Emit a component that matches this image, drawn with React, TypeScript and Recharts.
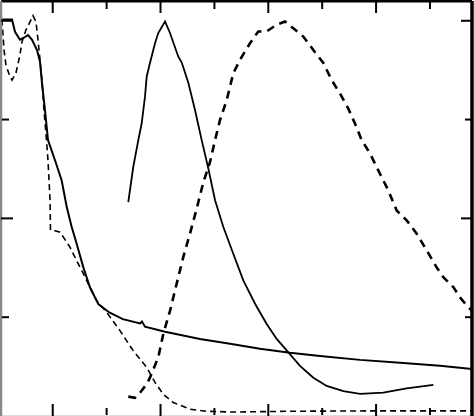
import React from 'react';
import { LineChart, Line, XAxis, YAxis } from 'recharts';

// wavelength (nm) / normalised intensity
const absSolidNm = [252, 262.2, 265, 269.6, 273.3, 277.1, 280.8, 285.4, 288.2, 290, 292.8, 295.6, 302.1, 308.3, 313, 317.6, 322.2, 328.4, 334.6, 342.3, 352.5, 365, 381, 382.8, 385.6, 404.2, 436.6, 464.5, 492.3, 520.1, 548, 585.1, 622.2, 659.3, 689];
const absSolidVal = [1.003, 1.003, 0.972, 0.952, 0.957, 0.964, 0.952, 0.926, 0.896, 0.843, 0.774, 0.698, 0.647, 0.596, 0.529, 0.478, 0.436, 0.376, 0.325, 0.283, 0.262, 0.245, 0.234, 0.239, 0.226, 0.213, 0.195, 0.183, 0.17, 0.16, 0.152, 0.142, 0.135, 0.127, 0.119];

const absDashNm = [252.9, 254.8, 256.6, 260.4, 262.2, 265.9, 269.6, 271.5, 275.2, 278.9, 281.7, 284.5, 286.3, 288.2, 290, 291.9, 293.8, 295.6, 297.5, 297.9, 300.5, 306.7, 309.8, 316, 322.2, 328.4, 333, 340.8, 350.1, 362.4, 374.7, 387.2, 394.9, 402.6, 411.9, 427.4, 442.9, 467.2, 520, 600, 689];
const absDashVal = [1.003, 0.926, 0.888, 0.858, 0.85, 0.868, 0.914, 0.947, 0.977, 0.997, 1.013, 0.997, 0.952, 0.901, 0.85, 0.774, 0.711, 0.647, 0.546, 0.47, 0.47, 0.465, 0.453, 0.427, 0.393, 0.36, 0.334, 0.292, 0.262, 0.216, 0.165, 0.123, 0.085, 0.055, 0.034, 0.017, 0.012, 0.01, 0.012, 0.013, 0.013];

const emSolidNm = [370.1, 374.7, 379.4, 382.5, 385.6, 387.2, 390.2, 394.9, 397.9, 404.2, 408.8, 416.5, 419.6, 425.8, 432, 438.2, 444.3, 450.6, 458.3, 467.6, 476.8, 487.7, 498.5, 507.8, 518.6, 529.4, 541.8, 554.2, 569.6, 585.1, 606.7, 628.4, 653.1];
const emSolidVal = [0.541, 0.63, 0.698, 0.74, 0.808, 0.859, 0.893, 0.943, 0.969, 0.998, 0.969, 0.909, 0.895, 0.843, 0.774, 0.698, 0.627, 0.546, 0.478, 0.41, 0.343, 0.284, 0.233, 0.195, 0.161, 0.127, 0.097, 0.076, 0.063, 0.056, 0.059, 0.07, 0.079];

const emDashNm = [370.1, 376.3, 381, 387.2, 390.2, 397.9, 402.6, 408.8, 415, 421.1, 427.4, 433.6, 439.7, 445.9, 450.6, 455.2, 461.4, 467.5, 473.7, 483, 490.7, 498.5, 507.8, 515.5, 523.2, 532.5, 541.8, 551.1, 558.8, 566.5, 574.2, 580.4, 586.7, 594.4, 603.6, 611.3, 619.1, 628.4, 637.7, 647, 656.2, 662.4, 671.7, 677.9, 683.4, 689];
const emDashVal = [0.049, 0.046, 0.059, 0.081, 0.097, 0.148, 0.208, 0.266, 0.335, 0.402, 0.462, 0.525, 0.591, 0.642, 0.698, 0.749, 0.799, 0.867, 0.901, 0.943, 0.973, 0.973, 0.99, 0.998, 0.981, 0.96, 0.926, 0.893, 0.85, 0.816, 0.778, 0.74, 0.698, 0.664, 0.613, 0.571, 0.52, 0.495, 0.461, 0.419, 0.376, 0.351, 0.326, 0.3, 0.282, 0.266];

const xMajor = [300, 400, 500, 600];
const xMinor = [350, 450, 550, 650];
const yMajor = [0.5, 1.0];
const yMinor = [0.25, 0.75];

const zip = (nm: number[], val: number[]) => nm.map((x, i) => ({ nm: x, v: val[i] }));

const X_DOMAIN: [number, number] = [252, 689];
const Y_DOMAIN: [number, number] = [0, 1.05];
const tickStyle = { stroke: '#000', strokeWidth: 2 };
const noLabel = () => <g />;

export default function App() {
  return (
    <div style={{ position: 'fixed', left: 0, top: 0, width: 474, height: 416, background: '#fff', overflow: 'hidden' }}>
      <LineChart width={474} height={416} margin={{ top: 1, right: 2, bottom: 0, left: 1 }}>
        <XAxis xAxisId="b" type="number" dataKey="nm" domain={X_DOMAIN} allowDataOverflow ticks={xMajor}
          height={1} mirror tick={noLabel} tickSize={12} tickLine={tickStyle} axisLine={{ stroke: '#bbb', strokeWidth: 1 }} />
        <XAxis xAxisId="bm" type="number" dataKey="nm" domain={X_DOMAIN} allowDataOverflow ticks={xMinor}
          height={1} mirror tick={noLabel} tickSize={7} tickLine={tickStyle} axisLine={false} />
        <XAxis xAxisId="t" orientation="top" type="number" dataKey="nm" domain={X_DOMAIN} allowDataOverflow ticks={xMajor}
          height={1} mirror tick={noLabel} tickSize={12} tickLine={tickStyle} axisLine={{ stroke: '#000', strokeWidth: 3 }} />
        <XAxis xAxisId="tm" orientation="top" type="number" dataKey="nm" domain={X_DOMAIN} allowDataOverflow ticks={xMinor}
          height={1} mirror tick={noLabel} tickSize={7} tickLine={tickStyle} axisLine={false} />
        <YAxis yAxisId="l" type="number" domain={Y_DOMAIN} allowDataOverflow ticks={yMajor}
          width={1} mirror tick={noLabel} tickSize={12} tickLine={tickStyle} axisLine={{ stroke: '#888', strokeWidth: 2.5 }} />
        <YAxis yAxisId="lm" type="number" domain={Y_DOMAIN} allowDataOverflow ticks={yMinor}
          width={1} mirror tick={noLabel} tickSize={7} tickLine={tickStyle} axisLine={false} />
        <YAxis yAxisId="r" orientation="right" type="number" domain={Y_DOMAIN} allowDataOverflow ticks={yMajor}
          width={1} mirror tick={noLabel} tickSize={11} tickLine={tickStyle} axisLine={{ stroke: '#000', strokeWidth: 3.5 }} />
        <YAxis yAxisId="rm" orientation="right" type="number" domain={Y_DOMAIN} allowDataOverflow ticks={yMinor}
          width={1} mirror tick={noLabel} tickSize={6} tickLine={tickStyle} axisLine={false} />

        <Line xAxisId="b" yAxisId="l" data={zip(absDashNm, absDashVal)} dataKey="v" type="linear" dot={false}
          stroke="#000" strokeWidth={1.6} strokeDasharray="6 4" isAnimationActive={false} />
        <Line xAxisId="b" yAxisId="l" data={zip(emDashNm, emDashVal)} dataKey="v" type="linear" dot={false}
          stroke="#000" strokeWidth={2.6} strokeDasharray="8 6" isAnimationActive={false} />
        <Line xAxisId="b" yAxisId="l" data={zip(absSolidNm, absSolidVal)} dataKey="v" type="linear" dot={false}
          stroke="#000" strokeWidth={2} isAnimationActive={false} />
        <Line xAxisId="b" yAxisId="l" data={zip(emSolidNm, emSolidVal)} dataKey="v" type="linear" dot={false}
          stroke="#000" strokeWidth={1.8} isAnimationActive={false} />
      </LineChart>
    </div>
  );
}
